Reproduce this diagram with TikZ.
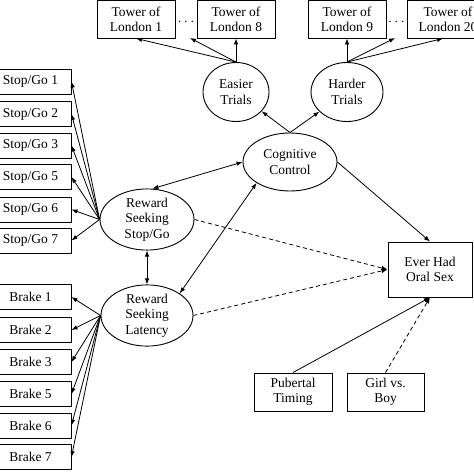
\documentclass[tikz,border=0pt]{standalone}
\usepackage{fontspec}
\setmainfont{Liberation Serif}
\usepackage{tikz}
\usetikzlibrary{arrows.meta,positioning,shapes.geometric}

\begin{document}
\begin{tikzpicture}[
    x=1pt, y=-1pt,
    every node/.style={font=\fontsize{13.5}{15.5}\selectfont},
    box/.style={rectangle, draw, line width=0.9pt, inner sep=1pt, align=center},
    indbox/.style={box, minimum width=81pt, minimum height=25pt},
    towerbox/.style={box, minimum width=78pt, minimum height=37.5pt},
    latent/.style={ellipse, draw, line width=0.9pt, inner sep=0pt, align=center, minimum height=59pt},
    arrow/.style={-{Latex[length=6pt,width=4.5pt]}, line width=0.8pt},
    twoway/.style={{Latex[length=6pt,width=4.5pt]}-{Latex[length=6pt,width=4.5pt]}, line width=0.8pt},
    dasharrow/.style={arrow, dashed, dash pattern=on 4pt off 3pt}
]
\clip (0,0) rectangle (474,474);

% Top row: Tower of London indicators
\node[towerbox] (tol1) at (136,19.25) {Tower of\\London 1};
\node[towerbox] (tol8) at (236,19.25) {Tower of\\London 8};
\node[towerbox] (tol9) at (347,19.25) {Tower of\\London 9};
\node[towerbox, minimum width=82pt] (tol20) at (448,19.25) {Tower of\\London 20};
\node (dotsl) at (186,22) {$\cdots$};
\node (dotsr) at (396.5,22) {$\cdots$};
\coordinate (gapl) at (190,38);
\coordinate (gapr) at (395,38);

% Trial factors
\node[latent, minimum width=66pt] (easy) at (236,92) {Easier\\Trials};
\node[latent, minimum width=72pt] (hard) at (347,92) {Harder\\Trials};

\draw[arrow] (easy.north) -- (tol1.south);
\draw[arrow] (easy.north) -- (gapl);
\draw[arrow] (easy.north) -- (tol8.south);
\draw[arrow] (hard.north) -- (tol9.south);
\draw[arrow] (hard.north) -- (gapr);
\draw[arrow] (hard.north) -- ([xshift=-5pt]tol20.south);

% Cognitive control
\node[latent, minimum width=94pt, minimum height=58pt] (cog) at (290,162) {Cognitive\\Control};
\draw[arrow] (cog.north) -- (easy);
\draw[arrow] (cog.north) -- (hard);

% Left column: Stop/Go indicators
\node[indbox] (sg1) at (30.5,81.5) {Stop/Go 1};
\node[indbox] (sg2) at (30.5,114) {Stop/Go 2};
\node[indbox] (sg3) at (30.5,145.5) {Stop/Go 3};
\node[indbox] (sg5) at (30.5,177) {Stop/Go 5};
\node[indbox] (sg6) at (30.5,209.5) {Stop/Go 6};
\node[indbox] (sg7) at (30.5,240.5) {Stop/Go 7};

% Left column: Brake indicators
\node[indbox] (br1) at (30.5,297) {Brake 1};
\node[indbox] (br2) at (30.5,330) {Brake 2};
\node[indbox] (br3) at (30.5,362) {Brake 3};
\node[indbox] (br5) at (30.5,394) {Brake 5};
\node[indbox] (br6) at (30.5,425.5) {Brake 6};
\node[indbox] (br7) at (30.5,457) {Brake 7};

% Reward seeking factors
\node[latent, minimum width=94pt] (rsg) at (147,219.5) {Reward\\Seeking\\Stop/Go};
\node[latent, minimum width=92pt, minimum height=60pt] (rsl) at (147,315.5) {Reward\\Seeking\\Latency};

\draw[arrow] (rsg.west) -- (sg1.east);
\draw[arrow] (rsg.west) -- (sg2.east);
\draw[arrow] (rsg.west) -- (sg3.east);
\draw[arrow] (rsg.west) -- (sg5.east);
\draw[arrow] (rsg.west) -- (sg6.east);
\draw[arrow] (rsg.west) -- (sg7.east);

\draw[arrow] (rsl.west) -- (br1.east);
\draw[arrow] (rsl.west) -- (br2.east);
\draw[arrow] (rsl.west) -- (br3.east);
\draw[arrow] (rsl.west) -- (br5.east);
\draw[arrow] (rsl.west) -- (br6.east);
\draw[arrow] (rsl.west) -- (br7.east);

% Covariances
\draw[twoway] (rsg.south) -- (rsl.north);
\draw[twoway] (rsg.80) -- (cog.west);
\draw[twoway] (rsl.34) -- (cog.212);

% Outcome and covariates
\node[box, minimum width=84pt, minimum height=55pt] (oral) at (430,269.5) {Ever Had\\Oral Sex};
\node[box, minimum width=78pt, minimum height=38pt] (puberty) at (293,392) {Pubertal\\Timing};
\node[box, minimum width=77pt, minimum height=38pt] (sex) at (385.5,392) {Girl vs.\\Boy};

\draw[arrow] (cog.east) -- (oral.north);
\draw[dasharrow] (rsg.east) -- (oral.west);
\draw[dasharrow] (rsl.east) -- (oral.west);
\draw[arrow] (puberty.north) -- (oral.south);
\draw[dasharrow] (sex.north) -- (oral.south);

\end{tikzpicture}
\end{document}
